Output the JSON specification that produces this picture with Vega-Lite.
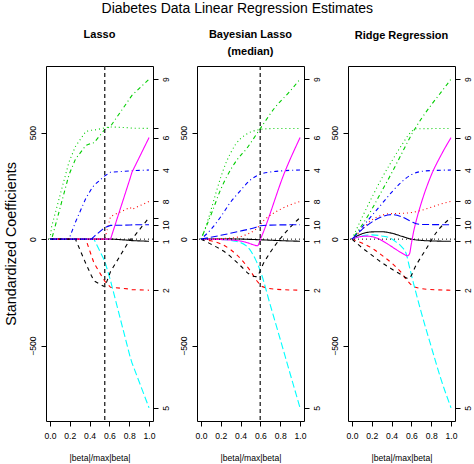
{
  "$schema": "https://vega.github.io/schema/vega-lite/v6.json",
  "title": {"text": "Diabetes Data Linear Regression Estimates", "fontSize": 14, "fontWeight": "normal", "font": "Liberation Sans", "color": "black", "anchor": "middle", "offset": 13},
  "padding": {"left": 2, "top": 1, "right": 2, "bottom": 0},
  "spacing": 44,
  "bounds": "flush",
  "config": {
    "font": "Liberation Sans",
    "view": {"stroke": "black", "strokeWidth": 1},
    "axis": {"domain": false, "grid": false, "tickColor": "black", "tickSize": 5, "labelColor": "black", "labelFontSize": 8.6, "labelFont": "Liberation Sans", "titleFont": "Liberation Sans", "titleFontWeight": "normal", "titleColor": "black"},
    "title": {"font": "Liberation Sans", "fontSize": 11, "fontWeight": "bold", "color": "black", "lineHeight": 17}
  },
  "datasets": {
    "cuts": [
      {"panel": "lasso", "x": 0.553},
      {"panel": "bayes", "x": 0.598}
    ],
    "paths": [
      {"panel": "lasso", "var": 1, "x": 0, "v": 0}, {"panel": "lasso", "var": 1, "x": 0.6346, "v": 0}, {"panel": "lasso", "var": 1, "x": 0.8099, "v": -5.72}, {"panel": "lasso", "var": 1, "x": 0.8275, "v": -7.01}, {"panel": "lasso", "var": 1, "x": 1, "v": -10.01},
      {"panel": "lasso", "var": 2, "x": 0, "v": 0}, {"panel": "lasso", "var": 2, "x": 0.3615, "v": 0}, {"panel": "lasso", "var": 2, "x": 0.4164, "v": -74.92}, {"panel": "lasso", "var": 2, "x": 0.4442, "v": -111.98}, {"panel": "lasso", "var": 2, "x": 0.5533, "v": -197.76}, {"panel": "lasso", "var": 2, "x": 0.6115, "v": -226.13}, {"panel": "lasso", "var": 2, "x": 0.6346, "v": -227.18}, {"panel": "lasso", "var": 2, "x": 0.8099, "v": -234.4}, {"panel": "lasso", "var": 2, "x": 0.8275, "v": -237.1}, {"panel": "lasso", "var": 2, "x": 1, "v": -239.82},
      {"panel": "lasso", "var": 3, "x": 0, "v": 0}, {"panel": "lasso", "var": 3, "x": 0.0174, "v": 60.12}, {"panel": "lasso", "var": 3, "x": 0.1918, "v": 361.89}, {"panel": "lasso", "var": 3, "x": 0.2569, "v": 434.76}, {"panel": "lasso", "var": 3, "x": 0.3615, "v": 505.66}, {"panel": "lasso", "var": 3, "x": 0.4164, "v": 511.35}, {"panel": "lasso", "var": 3, "x": 0.4442, "v": 512.04}, {"panel": "lasso", "var": 3, "x": 0.5533, "v": 522.26}, {"panel": "lasso", "var": 3, "x": 0.6115, "v": 526.89}, {"panel": "lasso", "var": 3, "x": 0.6346, "v": 526.39}, {"panel": "lasso", "var": 3, "x": 0.8099, "v": 522.65}, {"panel": "lasso", "var": 3, "x": 0.8275, "v": 521.08}, {"panel": "lasso", "var": 3, "x": 1, "v": 519.84},
      {"panel": "lasso", "var": 4, "x": 0, "v": 0}, {"panel": "lasso", "var": 4, "x": 0.1918, "v": 0}, {"panel": "lasso", "var": 4, "x": 0.2569, "v": 79.24}, {"panel": "lasso", "var": 4, "x": 0.3615, "v": 191.27}, {"panel": "lasso", "var": 4, "x": 0.4164, "v": 234.15}, {"panel": "lasso", "var": 4, "x": 0.4442, "v": 252.53}, {"panel": "lasso", "var": 4, "x": 0.5533, "v": 297.16}, {"panel": "lasso", "var": 4, "x": 0.6115, "v": 314.39}, {"panel": "lasso", "var": 4, "x": 0.6346, "v": 314.95}, {"panel": "lasso", "var": 4, "x": 0.8099, "v": 320.34}, {"panel": "lasso", "var": 4, "x": 0.8275, "v": 321.55}, {"panel": "lasso", "var": 4, "x": 1, "v": 324.39},
      {"panel": "lasso", "var": 5, "x": 0, "v": 0}, {"panel": "lasso", "var": 5, "x": 0.4442, "v": 0}, {"panel": "lasso", "var": 5, "x": 0.5533, "v": -103.95}, {"panel": "lasso", "var": 5, "x": 0.6115, "v": -195.11}, {"panel": "lasso", "var": 5, "x": 0.6346, "v": -237.34}, {"panel": "lasso", "var": 5, "x": 0.8099, "v": -554.27}, {"panel": "lasso", "var": 5, "x": 0.8275, "v": -580.44}, {"panel": "lasso", "var": 5, "x": 1, "v": -792.18},
      {"panel": "lasso", "var": 6, "x": 0, "v": 0}, {"panel": "lasso", "var": 6, "x": 0.6115, "v": 0}, {"panel": "lasso", "var": 6, "x": 0.6346, "v": 33.63}, {"panel": "lasso", "var": 6, "x": 0.8099, "v": 286.74}, {"panel": "lasso", "var": 6, "x": 0.8275, "v": 313.86}, {"panel": "lasso", "var": 6, "x": 1, "v": 476.75},
      {"panel": "lasso", "var": 7, "x": 0, "v": 0}, {"panel": "lasso", "var": 7, "x": 0.2569, "v": 0}, {"panel": "lasso", "var": 7, "x": 0.3615, "v": -114.1}, {"panel": "lasso", "var": 7, "x": 0.4164, "v": -169.71}, {"panel": "lasso", "var": 7, "x": 0.4442, "v": -196.05}, {"panel": "lasso", "var": 7, "x": 0.5533, "v": -223.93}, {"panel": "lasso", "var": 7, "x": 0.6115, "v": -152.48}, {"panel": "lasso", "var": 7, "x": 0.6346, "v": -134.6}, {"panel": "lasso", "var": 7, "x": 0.8099, "v": 0}, {"panel": "lasso", "var": 7, "x": 0.8275, "v": 0}, {"panel": "lasso", "var": 7, "x": 1, "v": 101.04},
      {"panel": "lasso", "var": 8, "x": 0, "v": 0}, {"panel": "lasso", "var": 8, "x": 0.5533, "v": 0}, {"panel": "lasso", "var": 8, "x": 0.6115, "v": 106.34}, {"panel": "lasso", "var": 8, "x": 0.6346, "v": 111.38}, {"panel": "lasso", "var": 8, "x": 0.8099, "v": 148.9}, {"panel": "lasso", "var": 8, "x": 0.8275, "v": 139.86}, {"panel": "lasso", "var": 8, "x": 1, "v": 177.06},
      {"panel": "lasso", "var": 9, "x": 0, "v": 0}, {"panel": "lasso", "var": 9, "x": 0.0174, "v": 0}, {"panel": "lasso", "var": 9, "x": 0.1918, "v": 301.78}, {"panel": "lasso", "var": 9, "x": 0.2569, "v": 374.92}, {"panel": "lasso", "var": 9, "x": 0.3615, "v": 439.66}, {"panel": "lasso", "var": 9, "x": 0.4164, "v": 450.67}, {"panel": "lasso", "var": 9, "x": 0.4442, "v": 452.39}, {"panel": "lasso", "var": 9, "x": 0.5533, "v": 514.75}, {"panel": "lasso", "var": 9, "x": 0.6115, "v": 529.92}, {"panel": "lasso", "var": 9, "x": 0.6346, "v": 545.48}, {"panel": "lasso", "var": 9, "x": 0.8099, "v": 663.03}, {"panel": "lasso", "var": 9, "x": 0.8275, "v": 674.94}, {"panel": "lasso", "var": 9, "x": 1, "v": 751.28},
      {"panel": "lasso", "var": 10, "x": 0, "v": 0}, {"panel": "lasso", "var": 10, "x": 0.4164, "v": 0}, {"panel": "lasso", "var": 10, "x": 0.4442, "v": 12.08}, {"panel": "lasso", "var": 10, "x": 0.5533, "v": 54.77}, {"panel": "lasso", "var": 10, "x": 0.6115, "v": 64.49}, {"panel": "lasso", "var": 10, "x": 0.6346, "v": 64.61}, {"panel": "lasso", "var": 10, "x": 0.8099, "v": 66.33}, {"panel": "lasso", "var": 10, "x": 0.8275, "v": 67.18}, {"panel": "lasso", "var": 10, "x": 1, "v": 67.63},

      {"panel": "bayes", "var": 1, "x": 0, "v": 0}, {"panel": "bayes", "var": 1, "x": 0.3, "v": 1}, {"panel": "bayes", "var": 1, "x": 0.6, "v": -3}, {"panel": "bayes", "var": 1, "x": 0.8, "v": -7}, {"panel": "bayes", "var": 1, "x": 1, "v": -10.01},
      {"panel": "bayes", "var": 2, "x": 0, "v": 0}, {"panel": "bayes", "var": 2, "x": 0.1, "v": -8}, {"panel": "bayes", "var": 2, "x": 0.2, "v": -22}, {"panel": "bayes", "var": 2, "x": 0.3, "v": -50}, {"panel": "bayes", "var": 2, "x": 0.4, "v": -92}, {"panel": "bayes", "var": 2, "x": 0.5, "v": -150}, {"panel": "bayes", "var": 2, "x": 0.57, "v": -199}, {"panel": "bayes", "var": 2, "x": 0.62, "v": -223}, {"panel": "bayes", "var": 2, "x": 0.75, "v": -235}, {"panel": "bayes", "var": 2, "x": 1, "v": -239.82},
      {"panel": "bayes", "var": 3, "x": 0, "v": 0}, {"panel": "bayes", "var": 3, "x": 0.05, "v": 60}, {"panel": "bayes", "var": 3, "x": 0.1, "v": 135}, {"panel": "bayes", "var": 3, "x": 0.15, "v": 215}, {"panel": "bayes", "var": 3, "x": 0.2, "v": 290}, {"panel": "bayes", "var": 3, "x": 0.25, "v": 355}, {"panel": "bayes", "var": 3, "x": 0.3, "v": 405}, {"panel": "bayes", "var": 3, "x": 0.35, "v": 445}, {"panel": "bayes", "var": 3, "x": 0.4, "v": 472}, {"panel": "bayes", "var": 3, "x": 0.45, "v": 490}, {"panel": "bayes", "var": 3, "x": 0.5, "v": 503}, {"panel": "bayes", "var": 3, "x": 0.6, "v": 515}, {"panel": "bayes", "var": 3, "x": 0.7, "v": 519}, {"panel": "bayes", "var": 3, "x": 1, "v": 519.84},
      {"panel": "bayes", "var": 4, "x": 0, "v": 0}, {"panel": "bayes", "var": 4, "x": 0.1, "v": 45}, {"panel": "bayes", "var": 4, "x": 0.2, "v": 105}, {"panel": "bayes", "var": 4, "x": 0.29, "v": 168}, {"panel": "bayes", "var": 4, "x": 0.39, "v": 223}, {"panel": "bayes", "var": 4, "x": 0.49, "v": 274}, {"panel": "bayes", "var": 4, "x": 0.6, "v": 305}, {"panel": "bayes", "var": 4, "x": 0.7, "v": 315}, {"panel": "bayes", "var": 4, "x": 0.8, "v": 320}, {"panel": "bayes", "var": 4, "x": 1, "v": 324.39},
      {"panel": "bayes", "var": 5, "x": 0, "v": 0}, {"panel": "bayes", "var": 5, "x": 0.2, "v": -2}, {"panel": "bayes", "var": 5, "x": 0.35, "v": -10}, {"panel": "bayes", "var": 5, "x": 0.47, "v": -36}, {"panel": "bayes", "var": 5, "x": 0.55, "v": -95}, {"panel": "bayes", "var": 5, "x": 0.6, "v": -150}, {"panel": "bayes", "var": 5, "x": 0.7, "v": -310}, {"panel": "bayes", "var": 5, "x": 0.8, "v": -470}, {"panel": "bayes", "var": 5, "x": 0.9, "v": -632}, {"panel": "bayes", "var": 5, "x": 1, "v": -792.18},
      {"panel": "bayes", "var": 6, "x": 0, "v": 0}, {"panel": "bayes", "var": 6, "x": 0.2, "v": -2}, {"panel": "bayes", "var": 6, "x": 0.35, "v": -6}, {"panel": "bayes", "var": 6, "x": 0.45, "v": -14}, {"panel": "bayes", "var": 6, "x": 0.52, "v": -25}, {"panel": "bayes", "var": 6, "x": 0.57, "v": -31}, {"panel": "bayes", "var": 6, "x": 0.605, "v": 5}, {"panel": "bayes", "var": 6, "x": 0.85, "v": 320}, {"panel": "bayes", "var": 6, "x": 1, "v": 476.75},
      {"panel": "bayes", "var": 7, "x": 0, "v": 0}, {"panel": "bayes", "var": 7, "x": 0.12, "v": -28}, {"panel": "bayes", "var": 7, "x": 0.26, "v": -67}, {"panel": "bayes", "var": 7, "x": 0.39, "v": -121}, {"panel": "bayes", "var": 7, "x": 0.49, "v": -165}, {"panel": "bayes", "var": 7, "x": 0.555, "v": -176}, {"panel": "bayes", "var": 7, "x": 0.64, "v": -106}, {"panel": "bayes", "var": 7, "x": 0.75, "v": -28}, {"panel": "bayes", "var": 7, "x": 0.92, "v": 65}, {"panel": "bayes", "var": 7, "x": 1, "v": 101.04},
      {"panel": "bayes", "var": 8, "x": 0, "v": 0}, {"panel": "bayes", "var": 8, "x": 0.3, "v": 5}, {"panel": "bayes", "var": 8, "x": 0.45, "v": 20}, {"panel": "bayes", "var": 8, "x": 0.55, "v": 45}, {"panel": "bayes", "var": 8, "x": 0.64, "v": 90}, {"panel": "bayes", "var": 8, "x": 0.79, "v": 137}, {"panel": "bayes", "var": 8, "x": 1, "v": 177.06},
      {"panel": "bayes", "var": 9, "x": 0, "v": 0}, {"panel": "bayes", "var": 9, "x": 0.04, "v": 44}, {"panel": "bayes", "var": 9, "x": 0.12, "v": 137}, {"panel": "bayes", "var": 9, "x": 0.19, "v": 223}, {"panel": "bayes", "var": 9, "x": 0.26, "v": 293}, {"panel": "bayes", "var": 9, "x": 0.36, "v": 370}, {"panel": "bayes", "var": 9, "x": 0.46, "v": 425}, {"panel": "bayes", "var": 9, "x": 0.6, "v": 520}, {"panel": "bayes", "var": 9, "x": 0.75, "v": 620}, {"panel": "bayes", "var": 9, "x": 0.89, "v": 690}, {"panel": "bayes", "var": 9, "x": 1, "v": 751.28},
      {"panel": "bayes", "var": 10, "x": 0, "v": 0}, {"panel": "bayes", "var": 10, "x": 0.2, "v": 18}, {"panel": "bayes", "var": 10, "x": 0.4, "v": 38}, {"panel": "bayes", "var": 10, "x": 0.55, "v": 55}, {"panel": "bayes", "var": 10, "x": 0.6, "v": 63}, {"panel": "bayes", "var": 10, "x": 0.7, "v": 66}, {"panel": "bayes", "var": 10, "x": 1, "v": 67.63},

      {"panel": "ridge", "var": 1, "x": 0, "v": 0}, {"panel": "ridge", "var": 1, "x": 0.1, "v": 25}, {"panel": "ridge", "var": 1, "x": 0.2, "v": 34}, {"panel": "ridge", "var": 1, "x": 0.3, "v": 35}, {"panel": "ridge", "var": 1, "x": 0.4, "v": 28}, {"panel": "ridge", "var": 1, "x": 0.5, "v": 14}, {"panel": "ridge", "var": 1, "x": 0.6, "v": 0}, {"panel": "ridge", "var": 1, "x": 0.7, "v": -6}, {"panel": "ridge", "var": 1, "x": 0.85, "v": -9}, {"panel": "ridge", "var": 1, "x": 1, "v": -10.01},
      {"panel": "ridge", "var": 2, "x": 0, "v": 0}, {"panel": "ridge", "var": 2, "x": 0.1, "v": -18}, {"panel": "ridge", "var": 2, "x": 0.2, "v": -42}, {"panel": "ridge", "var": 2, "x": 0.3, "v": -75}, {"panel": "ridge", "var": 2, "x": 0.4, "v": -112}, {"panel": "ridge", "var": 2, "x": 0.5, "v": -158}, {"panel": "ridge", "var": 2, "x": 0.55, "v": -190}, {"panel": "ridge", "var": 2, "x": 0.62, "v": -222}, {"panel": "ridge", "var": 2, "x": 0.7, "v": -232}, {"panel": "ridge", "var": 2, "x": 0.85, "v": -238}, {"panel": "ridge", "var": 2, "x": 1, "v": -239.82},
      {"panel": "ridge", "var": 3, "x": 0, "v": 0}, {"panel": "ridge", "var": 3, "x": 0.1, "v": 100}, {"panel": "ridge", "var": 3, "x": 0.2, "v": 195}, {"panel": "ridge", "var": 3, "x": 0.3, "v": 285}, {"panel": "ridge", "var": 3, "x": 0.4, "v": 365}, {"panel": "ridge", "var": 3, "x": 0.5, "v": 440}, {"panel": "ridge", "var": 3, "x": 0.6, "v": 505}, {"panel": "ridge", "var": 3, "x": 0.65, "v": 518}, {"panel": "ridge", "var": 3, "x": 1, "v": 519.84},
      {"panel": "ridge", "var": 4, "x": 0, "v": 0}, {"panel": "ridge", "var": 4, "x": 0.1, "v": 55}, {"panel": "ridge", "var": 4, "x": 0.2, "v": 110}, {"panel": "ridge", "var": 4, "x": 0.3, "v": 165}, {"panel": "ridge", "var": 4, "x": 0.4, "v": 220}, {"panel": "ridge", "var": 4, "x": 0.5, "v": 268}, {"panel": "ridge", "var": 4, "x": 0.6, "v": 303}, {"panel": "ridge", "var": 4, "x": 0.7, "v": 318}, {"panel": "ridge", "var": 4, "x": 0.8, "v": 322}, {"panel": "ridge", "var": 4, "x": 1, "v": 324.39},
      {"panel": "ridge", "var": 5, "x": 0, "v": 0}, {"panel": "ridge", "var": 5, "x": 0.1, "v": 15}, {"panel": "ridge", "var": 5, "x": 0.2, "v": 20}, {"panel": "ridge", "var": 5, "x": 0.3, "v": 15}, {"panel": "ridge", "var": 5, "x": 0.4, "v": 2}, {"panel": "ridge", "var": 5, "x": 0.45, "v": -15}, {"panel": "ridge", "var": 5, "x": 0.5, "v": -35}, {"panel": "ridge", "var": 5, "x": 0.55, "v": -72}, {"panel": "ridge", "var": 5, "x": 0.58, "v": -130}, {"panel": "ridge", "var": 5, "x": 0.6, "v": -168}, {"panel": "ridge", "var": 5, "x": 0.7, "v": -345}, {"panel": "ridge", "var": 5, "x": 0.8, "v": -505}, {"panel": "ridge", "var": 5, "x": 0.9, "v": -660}, {"panel": "ridge", "var": 5, "x": 1, "v": -792.18},
      {"panel": "ridge", "var": 6, "x": 0, "v": 0}, {"panel": "ridge", "var": 6, "x": 0.05, "v": 8}, {"panel": "ridge", "var": 6, "x": 0.15, "v": 14}, {"panel": "ridge", "var": 6, "x": 0.25, "v": 5}, {"panel": "ridge", "var": 6, "x": 0.35, "v": -20}, {"panel": "ridge", "var": 6, "x": 0.45, "v": -50}, {"panel": "ridge", "var": 6, "x": 0.52, "v": -70}, {"panel": "ridge", "var": 6, "x": 0.56, "v": -78}, {"panel": "ridge", "var": 6, "x": 0.58, "v": -70}, {"panel": "ridge", "var": 6, "x": 0.6, "v": -20}, {"panel": "ridge", "var": 6, "x": 0.62, "v": 30}, {"panel": "ridge", "var": 6, "x": 0.65, "v": 89}, {"panel": "ridge", "var": 6, "x": 0.7, "v": 170}, {"panel": "ridge", "var": 6, "x": 0.8, "v": 300}, {"panel": "ridge", "var": 6, "x": 0.9, "v": 395}, {"panel": "ridge", "var": 6, "x": 1, "v": 476.75},
      {"panel": "ridge", "var": 7, "x": 0, "v": 0}, {"panel": "ridge", "var": 7, "x": 0.1, "v": -40}, {"panel": "ridge", "var": 7, "x": 0.2, "v": -75}, {"panel": "ridge", "var": 7, "x": 0.3, "v": -110}, {"panel": "ridge", "var": 7, "x": 0.4, "v": -140}, {"panel": "ridge", "var": 7, "x": 0.5, "v": -168}, {"panel": "ridge", "var": 7, "x": 0.57, "v": -185}, {"panel": "ridge", "var": 7, "x": 0.65, "v": -120}, {"panel": "ridge", "var": 7, "x": 0.75, "v": -45}, {"panel": "ridge", "var": 7, "x": 0.85, "v": 30}, {"panel": "ridge", "var": 7, "x": 1, "v": 101.04},
      {"panel": "ridge", "var": 8, "x": 0, "v": 0}, {"panel": "ridge", "var": 8, "x": 0.1, "v": 45}, {"panel": "ridge", "var": 8, "x": 0.2, "v": 90}, {"panel": "ridge", "var": 8, "x": 0.3, "v": 112}, {"panel": "ridge", "var": 8, "x": 0.4, "v": 120}, {"panel": "ridge", "var": 8, "x": 0.5, "v": 121}, {"panel": "ridge", "var": 8, "x": 0.6, "v": 125}, {"panel": "ridge", "var": 8, "x": 0.7, "v": 135}, {"panel": "ridge", "var": 8, "x": 0.8, "v": 150}, {"panel": "ridge", "var": 8, "x": 0.9, "v": 165}, {"panel": "ridge", "var": 8, "x": 1, "v": 177.06},
      {"panel": "ridge", "var": 9, "x": 0, "v": 0}, {"panel": "ridge", "var": 9, "x": 0.1, "v": 65}, {"panel": "ridge", "var": 9, "x": 0.2, "v": 140}, {"panel": "ridge", "var": 9, "x": 0.3, "v": 225}, {"panel": "ridge", "var": 9, "x": 0.4, "v": 310}, {"panel": "ridge", "var": 9, "x": 0.5, "v": 400}, {"panel": "ridge", "var": 9, "x": 0.6, "v": 490}, {"panel": "ridge", "var": 9, "x": 0.7, "v": 565}, {"panel": "ridge", "var": 9, "x": 0.8, "v": 630}, {"panel": "ridge", "var": 9, "x": 0.9, "v": 690}, {"panel": "ridge", "var": 9, "x": 1, "v": 751.28},
      {"panel": "ridge", "var": 10, "x": 0, "v": 0}, {"panel": "ridge", "var": 10, "x": 0.1, "v": 45}, {"panel": "ridge", "var": 10, "x": 0.2, "v": 80}, {"panel": "ridge", "var": 10, "x": 0.3, "v": 105}, {"panel": "ridge", "var": 10, "x": 0.4, "v": 115}, {"panel": "ridge", "var": 10, "x": 0.5, "v": 105}, {"panel": "ridge", "var": 10, "x": 0.6, "v": 82}, {"panel": "ridge", "var": 10, "x": 0.65, "v": 72}, {"panel": "ridge", "var": 10, "x": 0.7, "v": 69}, {"panel": "ridge", "var": 10, "x": 1, "v": 67.63}
    ]
  },
  "hconcat": [
    {
      "width": 107, "height": 355,
      "title": {"text": "Lasso", "offset": 25},
      "layer": [
        {
          "data": {"name": "paths"},
          "transform": [{"filter": "datum.panel === 'lasso'"}],
          "mark": {"type": "line", "strokeWidth": 1.1},
          "encoding": {
            "x": {"field": "x", "type": "quantitative", "scale": {"domain": [-0.04, 1.04], "nice": false, "zero": false}, "axis": {"values": [0, 0.2, 0.4, 0.6, 0.8, 1], "format": ".1f", "title": "|beta|/max|beta|", "titleFontSize": 8.6, "labelPadding": 5, "titlePadding": 14, "labelFlush": false, "labelOverlap": false}},
            "y": {"field": "v", "type": "quantitative", "scale": {"domain": [-854, 813], "nice": false, "zero": false}, "axis": {"orient": "left", "values": [-500, 0, 500], "labelAngle": -90, "labelAlign": "center", "labelBaseline": "bottom", "labelPadding": 4, "title": "Standardized Coefficients", "titleFontSize": 14.4, "titlePadding": 10}},
            "color": {"field": "var", "type": "nominal", "legend": null, "scale": {"domain": [1, 2, 3, 4, 5, 6, 7, 8, 9, 10], "range": ["#000000", "#FF0000", "#00CD00", "#0000FF", "#00FFFF", "#FF00FF", "#000000", "#FF0000", "#00CD00", "#0000FF"]}},
            "strokeDash": {"field": "var", "type": "nominal", "legend": null, "scale": {"domain": [1, 2, 3, 4, 5, 6, 7, 8, 9, 10], "range": [[1, 0], [4, 4], [1, 3], [1, 3, 4, 3], [7, 3], [1, 0], [4, 4], [1, 3], [1, 3, 4, 3], [7, 3]]}}
          }
        },
        {
          "data": {"values": [{}]},
          "mark": {"type": "rule", "strokeDash": [1, 3], "color": "black", "strokeWidth": 1},
          "encoding": {"y": {"datum": 0, "axis": null}}
        },
        {
          "data": {"name": "cuts"},
          "transform": [{"filter": "datum.panel === 'lasso'"}],
          "mark": {"type": "rule", "strokeDash": [4, 3], "color": "#222222", "strokeWidth": 1.3},
          "encoding": {"x": {"field": "x", "type": "quantitative", "axis": {"values": [0, 0.2, 0.4, 0.6, 0.8, 1], "format": ".1f", "title": "|beta|/max|beta|", "titleFontSize": 8.6, "labelPadding": 5, "titlePadding": 14, "labelFlush": false, "labelOverlap": false}}}
        },
        {
          "data": {"name": "paths"},
          "transform": [{"filter": "datum.panel === 'lasso' && datum.x === 1"}],
          "mark": {"type": "point", "opacity": 0},
          "encoding": {
            "y": {"field": "v", "type": "quantitative", "axis": {"orient": "right", "values": [751.28, 519.84, 476.75, 324.39, 177.06, 101.04, 67.63, -10.01, -239.82, -792.18], "labelExpr": "datum.value > 700 ? '9' : datum.value > 500 ? '' : datum.value > 400 ? '6' : datum.value > 300 ? '4' : datum.value > 150 ? '8' : datum.value > 90 ? '' : datum.value > 50 ? '10' : datum.value > -50 ? '1' : datum.value > -500 ? '2' : '5'", "labelAngle": -90, "labelAlign": "center", "labelBaseline": "top", "labelPadding": 3, "labelOverlap": false, "title": null}}
          }
        }
      ],
      "resolve": {"axis": {"y": "independent"}}
    },
    {
      "width": 107, "height": 355,
      "title": {"text": ["Bayesian Lasso", "(median)"], "offset": 8},
      "layer": [
        {
          "data": {"name": "paths"},
          "transform": [{"filter": "datum.panel === 'bayes'"}],
          "mark": {"type": "line", "strokeWidth": 1.1, "interpolate": "monotone"},
          "encoding": {
            "x": {"field": "x", "type": "quantitative", "scale": {"domain": [-0.04, 1.04], "nice": false, "zero": false}, "axis": {"values": [0, 0.2, 0.4, 0.6, 0.8, 1], "format": ".1f", "title": "|beta|/max|beta|", "titleFontSize": 8.6, "labelPadding": 5, "titlePadding": 14, "labelFlush": false, "labelOverlap": false}},
            "y": {"field": "v", "type": "quantitative", "scale": {"domain": [-854, 813], "nice": false, "zero": false}, "axis": {"orient": "left", "values": [-500, 0, 500], "labelAngle": -90, "labelAlign": "center", "labelBaseline": "bottom", "labelPadding": 4, "title": null}},
            "color": {"field": "var", "type": "nominal", "legend": null, "scale": {"domain": [1, 2, 3, 4, 5, 6, 7, 8, 9, 10], "range": ["#000000", "#FF0000", "#00CD00", "#0000FF", "#00FFFF", "#FF00FF", "#000000", "#FF0000", "#00CD00", "#0000FF"]}},
            "strokeDash": {"field": "var", "type": "nominal", "legend": null, "scale": {"domain": [1, 2, 3, 4, 5, 6, 7, 8, 9, 10], "range": [[1, 0], [4, 4], [1, 3], [1, 3, 4, 3], [7, 3], [1, 0], [4, 4], [1, 3], [1, 3, 4, 3], [7, 3]]}}
          }
        },
        {
          "data": {"values": [{}]},
          "mark": {"type": "rule", "strokeDash": [1, 3], "color": "black", "strokeWidth": 1},
          "encoding": {"y": {"datum": 0, "axis": null}}
        },
        {
          "data": {"name": "cuts"},
          "transform": [{"filter": "datum.panel === 'bayes'"}],
          "mark": {"type": "rule", "strokeDash": [4, 3], "color": "#222222", "strokeWidth": 1.3},
          "encoding": {"x": {"field": "x", "type": "quantitative", "axis": {"values": [0, 0.2, 0.4, 0.6, 0.8, 1], "format": ".1f", "title": "|beta|/max|beta|", "titleFontSize": 8.6, "labelPadding": 5, "titlePadding": 14, "labelFlush": false, "labelOverlap": false}}}
        },
        {
          "data": {"name": "paths"},
          "transform": [{"filter": "datum.panel === 'bayes' && datum.x === 1"}],
          "mark": {"type": "point", "opacity": 0},
          "encoding": {
            "y": {"field": "v", "type": "quantitative", "axis": {"orient": "right", "values": [751.28, 519.84, 476.75, 324.39, 177.06, 101.04, 67.63, -10.01, -239.82, -792.18], "labelExpr": "datum.value > 700 ? '9' : datum.value > 500 ? '' : datum.value > 400 ? '6' : datum.value > 300 ? '4' : datum.value > 150 ? '8' : datum.value > 90 ? '' : datum.value > 50 ? '10' : datum.value > -50 ? '1' : datum.value > -500 ? '2' : '5'", "labelAngle": -90, "labelAlign": "center", "labelBaseline": "top", "labelPadding": 3, "labelOverlap": false, "title": null}}
          }
        }
      ],
      "resolve": {"axis": {"y": "independent"}}
    },
    {
      "width": 107, "height": 355,
      "title": {"text": "Ridge Regression", "offset": 25},
      "layer": [
        {
          "data": {"name": "paths"},
          "transform": [{"filter": "datum.panel === 'ridge'"}],
          "mark": {"type": "line", "strokeWidth": 1.1, "interpolate": "monotone"},
          "encoding": {
            "x": {"field": "x", "type": "quantitative", "scale": {"domain": [-0.04, 1.04], "nice": false, "zero": false}, "axis": {"values": [0, 0.2, 0.4, 0.6, 0.8, 1], "format": ".1f", "title": "|beta|/max|beta|", "titleFontSize": 8.6, "labelPadding": 5, "titlePadding": 14, "labelFlush": false, "labelOverlap": false}},
            "y": {"field": "v", "type": "quantitative", "scale": {"domain": [-854, 813], "nice": false, "zero": false}, "axis": {"orient": "left", "values": [-500, 0, 500], "labelAngle": -90, "labelAlign": "center", "labelBaseline": "bottom", "labelPadding": 4, "title": null}},
            "color": {"field": "var", "type": "nominal", "legend": null, "scale": {"domain": [1, 2, 3, 4, 5, 6, 7, 8, 9, 10], "range": ["#000000", "#FF0000", "#00CD00", "#0000FF", "#00FFFF", "#FF00FF", "#000000", "#FF0000", "#00CD00", "#0000FF"]}},
            "strokeDash": {"field": "var", "type": "nominal", "legend": null, "scale": {"domain": [1, 2, 3, 4, 5, 6, 7, 8, 9, 10], "range": [[1, 0], [4, 4], [1, 3], [1, 3, 4, 3], [7, 3], [1, 0], [4, 4], [1, 3], [1, 3, 4, 3], [7, 3]]}}
          }
        },
        {
          "data": {"values": [{}]},
          "mark": {"type": "rule", "strokeDash": [1, 3], "color": "black", "strokeWidth": 1},
          "encoding": {"y": {"datum": 0, "axis": null}}
        },
        {
          "data": {"name": "paths"},
          "transform": [{"filter": "datum.panel === 'ridge' && datum.x === 1"}],
          "mark": {"type": "point", "opacity": 0},
          "encoding": {
            "y": {"field": "v", "type": "quantitative", "axis": {"orient": "right", "values": [751.28, 519.84, 476.75, 324.39, 177.06, 101.04, 67.63, -10.01, -239.82, -792.18], "labelExpr": "datum.value > 700 ? '9' : datum.value > 500 ? '' : datum.value > 400 ? '6' : datum.value > 300 ? '4' : datum.value > 150 ? '8' : datum.value > 90 ? '' : datum.value > 50 ? '10' : datum.value > -50 ? '1' : datum.value > -500 ? '2' : '5'", "labelAngle": -90, "labelAlign": "center", "labelBaseline": "top", "labelPadding": 3, "labelOverlap": false, "title": null}}
          }
        }
      ],
      "resolve": {"axis": {"y": "independent"}}
    }
  ]
}
